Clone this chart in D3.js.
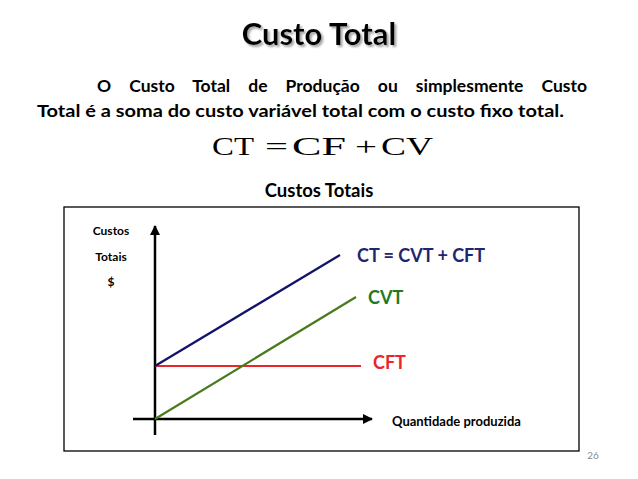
<!DOCTYPE html>
<html>
<head>
<meta charset="utf-8">
<script src="https://cdn.jsdelivr.net/npm/d3@7"></script>
<style>
  body { margin: 0; background: #fff; }
</style>
</head>
<body>
<svg id="chart"></svg>
<script>
// values
const quantities = { ct: [0, 9.25], cvt: [0, 10.05], cft: [0, 10.3] };
const ctCost = [26.5, 82];
const cvtCost = [0, 61];
const cftCost = [26.5, 26.5];
const seriesNames = ["CT = CVT + CFT", "CVT", "CFT"];
const axisYLabel = ["Custos", "Totais", "$"];
const axisXLabel = "Quantidade produzida";
const formulaParts = ["CT", "=", "CF", "+", "CV"];

const width = 638, height = 479;
const font = "Lato, 'Open Sans', sans-serif";

const svg = d3.select("#chart")
    .attr("width", width)
    .attr("height", height)
    .attr("font-family", font);

const defs = svg.append("defs");
const shadow = defs.append("filter").attr("id", "shadow")
    .attr("x", "-10%").attr("y", "-20%").attr("width", "130%").attr("height", "160%");
shadow.append("feDropShadow")
    .attr("dx", 2).attr("dy", 2).attr("stdDeviation", 0.8)
    .attr("flood-color", "#999").attr("flood-opacity", 0.9);

// title
svg.append("text")
    .attr("x", 319).attr("y", 45)
    .attr("text-anchor", "middle")
    .attr("font-weight", "bold").attr("font-size", 31)
    .attr("filter", "url(#shadow)")
    .text("Custo Total");

// paragraph, justified with word spacing
function justify(sel, target) {
  const node = sel.node();
  const natural = node.getComputedTextLength();
  const spaces = (sel.text().match(/ /g) || []).length;
  sel.attr("word-spacing", (target - natural) / spaces);
}
const p1 = svg.append("text")
    .attr("x", 97).attr("y", 92)
    .attr("font-size", 17.5).attr("font-weight", "bold")
    .attr("xml:space", "preserve")
    .text("O Custo Total de Produção ou simplesmente Custo");
justify(p1, 490);
svg.append("text")
    .attr("x", 37).attr("y", 117)
    .attr("font-size", 17.5).attr("font-weight", "bold")
    .attr("textLength", 527).attr("lengthAdjust", "spacingAndGlyphs")
    .text("Total é a soma do custo variável total com o custo fixo total.");

// formula, each part placed like the equation editor did
const partX = [212, 265, 292, 355, 381];
const partW = [42, 23, 54, 22, 52];
svg.append("g")
    .attr("font-family", "'Liberation Serif', 'Times New Roman', serif")
    .attr("font-size", 25)
  .selectAll("text")
  .data(formulaParts)
  .join("text")
    .attr("x", (d, i) => partX[i]).attr("y", 155)
    .attr("textLength", (d, i) => partW[i]).attr("lengthAdjust", "spacingAndGlyphs")
    .text(d => d);

// chart title and box
svg.append("text")
    .attr("x", 319).attr("y", 197)
    .attr("text-anchor", "middle")
    .attr("font-size", 18.5).attr("font-weight", "bold")
    .text("Custos Totais");

svg.append("rect")
    .attr("x", 64).attr("y", 207)
    .attr("width", 515).attr("height", 244)
    .attr("fill", "none").attr("stroke", "#000").attr("stroke-width", 1.3);

// scales
const x = d3.scaleLinear().domain([0, 10]).range([155, 355]);
const y = d3.scaleLinear().domain([0, 100]).range([419, 219]);

defs.append("marker")
    .attr("id", "arrow")
    .attr("viewBox", "0 0 10 10")
    .attr("refX", 9).attr("refY", 5)
    .attr("markerWidth", 4).attr("markerHeight", 4)
    .attr("orient", "auto")
    .append("path").attr("d", "M0,0L10,5L0,10z").attr("fill", "#000");

// axes
svg.append("line")
    .attr("x1", x(-1.1)).attr("x2", x(10.85))
    .attr("y1", y(0)).attr("y2", y(0))
    .attr("stroke", "#000").attr("stroke-width", 2.5)
    .attr("marker-end", "url(#arrow)");
svg.append("line")
    .attr("x1", x(0)).attr("x2", x(0))
    .attr("y1", y(-8)).attr("y2", y(96.5))
    .attr("stroke", "#000").attr("stroke-width", 2.5)
    .attr("marker-end", "url(#arrow)");

const series = [
  { q: quantities.cft, v: cftCost, color: "#e8262b" },
  { q: quantities.cvt, v: cvtCost, color: "#4a7a1e" },
  { q: quantities.ct, v: ctCost, color: "#12126a" }
];
const line = d3.line().x(d => x(d[0])).y(d => y(d[1]));
svg.append("g").selectAll("path")
  .data(series)
  .join("path")
    .attr("d", s => line(d3.zip(s.q, s.v)))
    .attr("fill", "none")
    .attr("stroke", s => s.color)
    .attr("stroke-width", 2.2);

// series labels
const labels = [
  { text: seriesNames[0], x: 357, y: 262, color: "#1f2670" },
  { text: seriesNames[1], x: 368, y: 304, color: "#237a1e" },
  { text: seriesNames[2], x: 373, y: 369, color: "#e8262b" }
];
svg.append("g").selectAll("text")
  .data(labels)
  .join("text")
    .attr("x", d => d.x).attr("y", d => d.y)
    .attr("fill", d => d.color)
    .attr("font-size", 18).attr("font-weight", "bold")
    .text(d => d.text);

// axis labels
svg.append("g").selectAll("text")
  .data(axisYLabel)
  .join("text")
    .attr("x", 111).attr("y", (d, i) => 235 + i * 25.5)
    .attr("text-anchor", "middle")
    .attr("font-size", 12).attr("font-weight", "bold")
    .text(d => d);
svg.append("text")
    .attr("x", 392).attr("y", 426)
    .attr("font-size", 13).attr("font-weight", "bold")
    .text(axisXLabel);

svg.append("text")
    .attr("x", 593).attr("y", 459)
    .attr("text-anchor", "middle")
    .attr("font-size", 10).attr("fill", "#8a8a8a")
    .text("26");
</script>
</body>
</html>
